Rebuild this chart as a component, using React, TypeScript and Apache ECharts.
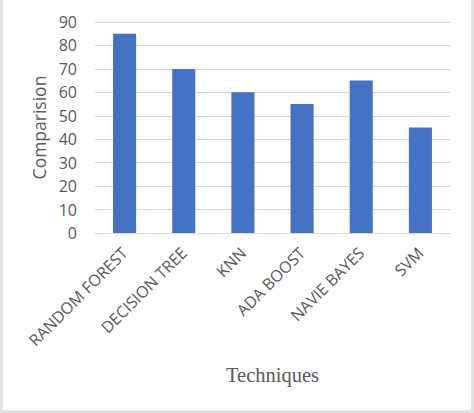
import React, { useEffect, useRef } from "react";
import * as echarts from "echarts";

const TECHNIQUES = ["RANDOM FOREST", "DECISION TREE", "KNN", "ADA BOOST", "NAVIE BAYES", "SVM"];
const COMPARISON = [85, 70, 60, 55, 65, 45];

const W = 474;
const H = 413;
const FRAME = "#e2e2e2";

const App: React.FC = () => {
  const chartRef = useRef<HTMLDivElement>(null);

  useEffect(() => {
    if (!chartRef.current) return;
    const chart = echarts.init(chartRef.current, undefined, { renderer: "svg" });
    chart.setOption({
      animation: false,
      backgroundColor: "#ffffff",
      grid: { left: 95, right: 24, top: 22, bottom: 180 },
      xAxis: {
        type: "category",
        data: TECHNIQUES,
        name: "Techniques",
        nameLocation: "middle",
        nameGap: 131,
        nameTextStyle: { fontFamily: "Liberation Serif", fontSize: 20.5, color: "#595959" },
        axisLine: { lineStyle: { color: "#d9d9d9" } },
        axisTick: { show: false },
        axisLabel: {
          interval: 0,
          rotate: 45,
          margin: 17,
          fontFamily: "Open Sans",
          fontSize: 16,
          color: "#595959",
        },
      },
      yAxis: {
        type: "value",
        min: 0,
        max: 90,
        interval: 10,
        name: "Comparision",
        nameLocation: "middle",
        nameGap: 46,
        nameTextStyle: { fontFamily: "Open Sans", fontSize: 17.5, color: "#595959" },
        axisLine: { show: false },
        axisTick: { show: false },
        axisLabel: { margin: 18, fontFamily: "Open Sans", fontSize: 16, color: "#595959" },
        splitLine: { lineStyle: { color: "#d9d9d9", width: 1 } },
      },
      series: [
        {
          type: "bar",
          data: COMPARISON,
          barWidth: "39%",
          itemStyle: { color: "#4472c4" },
        },
      ],
      graphic: [
        { type: "rect", left: 0, top: 0, shape: { width: 3, height: H }, style: { fill: FRAME } },
        { type: "rect", left: W - 3, top: 0, shape: { width: 3, height: H }, style: { fill: FRAME } },
        { type: "rect", left: 0, top: H - 3, shape: { width: W, height: 3 }, style: { fill: FRAME } },
      ],
    });
    return () => chart.dispose();
  }, []);

  return (
    <div style={{ position: "absolute", left: 0, top: 0, width: W, height: H }}>
      <div ref={chartRef} style={{ width: W, height: H }} />
    </div>
  );
};

export default App;
